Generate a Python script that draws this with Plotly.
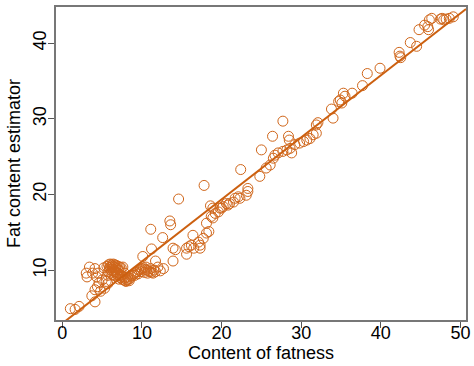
import plotly.graph_objects as go

# Observed (Content of fatness) values
fat_content = [
    1.0, 1.6, 2.1, 3.7, 4.1, 3.0, 3.4, 3.8, 4.1, 4.5, 3.1, 4.3,
    4.1, 4.4, 4.6, 5.0, 5.5, 5.7, 5.3, 5.7, 4.8, 5.2,
    5.6, 5.8, 6.0, 6.2, 6.4, 6.6, 6.8, 7.0, 7.2, 7.4, 5.9, 6.1, 6.3, 6.5, 6.7, 6.9, 7.1,
    6.0, 6.2, 6.4, 6.6, 6.8, 7.0, 5.8, 6.1, 6.3, 6.5, 6.7, 6.9, 7.2, 7.6, 7.8,
    7.3, 7.5, 7.7, 7.9, 8.1, 8.3, 8.5, 7.4, 7.6, 7.9, 8.2, 8.6, 8.8, 7.1, 8.0, 8.4,
    9.0, 9.2, 9.4, 9.6, 9.8, 10.0, 10.2, 10.4, 10.6, 10.8, 11.0, 11.2, 11.4,
    9.1, 9.5, 9.9, 10.3, 10.7, 11.1, 11.5, 11.7, 10.5,
    10.1, 11.1, 11.2, 11.7, 12.0, 12.6, 12.7, 12.3, 13.5, 13.6, 13.9, 13.9, 14.2, 14.6,
    15.6, 15.6, 15.9, 16.2, 16.5, 16.4, 17.1, 17.3, 17.7, 18.1, 18.4, 17.8, 18.1, 18.6,
    18.7, 19.2, 19.6, 19.8, 20.2, 20.8, 21.0, 21.5, 22.3, 23.1, 23.3, 18.9, 17.3,
    18.9, 20.0, 20.6, 21.7, 22.1,
    22.4, 24.8, 23.3, 25.0, 26.4, 27.7, 28.4, 28.5, 25.6, 26.1, 26.5, 26.7, 27.1, 27.7,
    28.2, 28.6, 28.8, 29.2, 29.8, 30.3, 30.7, 31.1, 31.5, 31.9, 32.1, 31.9, 33.8, 34.0,
    34.7, 34.9, 35.3, 35.1, 35.5, 36.4, 37.7, 38.3, 39.9, 42.3, 42.4, 42.5, 43.7, 44.5,
    44.8, 45.5, 46.0, 45.9, 46.1, 46.4, 47.5, 47.7, 47.9, 48.2, 48.6, 49.1,
]

# Estimated (Fat content estimator) values
fat_estimate = [
    4.9, 4.8, 5.2, 6.6, 5.8, 9.6, 10.4, 9.6, 10.2, 9.6, 9.1, 9.1,
    7.4, 7.8, 8.3, 8.7, 8.5, 9.3, 7.6, 8.2, 7.2, 10.3,
    10.5, 10.7, 10.8, 10.7, 10.8, 10.7, 10.6, 10.5, 10.4, 10.3, 10.3, 10.4, 10.5, 10.4, 10.3, 10.2, 10.0,
    10.1, 9.9, 10.0, 9.8, 9.7, 9.6, 9.8, 9.6, 9.4, 9.3, 9.2, 9.4, 9.3, 10.4, 9.6,
    9.0, 8.8, 8.7, 8.6, 8.7, 8.8, 8.9, 9.3, 9.1, 9.0, 9.1, 9.2, 9.3, 8.8, 8.5, 8.6,
    9.5, 9.7, 9.8, 10.0, 10.1, 10.2, 10.3, 10.1, 10.0, 9.9, 9.8, 9.7, 9.6,
    9.3, 9.5, 9.8, 9.7, 9.6, 10.2, 10.0, 9.8, 10.4,
    11.8, 15.4, 12.8, 11.2, 10.4, 14.3, 10.2, 9.9, 16.5, 16.0, 11.2, 12.9, 12.7, 19.4,
    12.1, 12.9, 13.1, 13.3, 12.9, 14.6, 13.7, 13.3, 14.2, 14.9, 15.1, 21.2, 16.2, 18.5,
    17.1, 17.5, 17.7, 18.2, 18.4, 18.6, 18.8, 19.0, 19.5, 19.9, 20.4, 16.9, 12.9,
    18.2, 18.2, 18.8, 19.5, 19.7,
    23.3, 22.4, 20.8, 25.9, 27.7, 29.7, 27.7, 27.2, 23.5, 23.9, 24.8, 25.2, 25.5, 25.7,
    25.9, 26.1, 25.5, 26.6, 26.8, 27.0, 27.2, 27.4, 27.9, 28.1, 29.5, 29.2, 31.3, 30.1,
    32.3, 32.5, 33.4, 32.1, 33.0, 33.4, 34.4, 36.0, 36.7, 38.8, 38.3, 38.1, 40.1, 39.6,
    41.8, 42.4, 41.8, 42.2, 43.1, 43.3, 43.2, 43.3, 43.1, 43.2, 43.3, 43.5,
]

# Fitted line (intercept, slope)
line_intercept = 2.95
line_slope = 0.82

x_range = [-0.8, 50.7]
y_range = [3.4, 44.8]
x_ticks = [0, 10, 20, 30, 40, 50]
y_ticks = [10, 20, 30, 40]

color = "#D0661A"

line_x = [x_range[0], x_range[1]]
line_y = [line_intercept + line_slope * v for v in line_x]

fig = go.Figure()
fig.add_trace(go.Scatter(
    x=fat_content, y=fat_estimate, mode="markers",
    marker=dict(symbol="circle-open", size=10, color=color, line=dict(width=1, color=color)),
    showlegend=False, hoverinfo="skip",
))
fig.add_trace(go.Scatter(
    x=line_x, y=line_y, mode="lines",
    line=dict(color="#CC6010", width=2), showlegend=False, hoverinfo="skip",
))

font = dict(family="Liberation Sans, Arial, sans-serif", size=18, color="black")

fig.update_layout(
    width=474, height=366,
    margin=dict(l=56, r=8, t=7, b=46),
    plot_bgcolor="white", paper_bgcolor="white",
    font=font,
    xaxis=dict(
        range=x_range, tickvals=x_ticks, ticks="outside", ticklen=6, tickwidth=1,
        tickcolor="#555555", showgrid=False, zeroline=False,
        showline=True, linecolor="#777777", linewidth=1.5, mirror=True,
        tickfont=font, ticklabelstandoff=-10, automargin=False,
        title=dict(text="Content of fatness", font=font, standoff=1),
    ),
    yaxis=dict(
        range=y_range, tickvals=y_ticks, ticks="outside", ticklen=6, tickwidth=1,
        tickcolor="#555555", showgrid=False, zeroline=False,
        showline=True, linecolor="#777777", linewidth=1.5, mirror=True,
        tickfont=font, tickangle=-90, ticklabelstandoff=-5, automargin=False,
        title=dict(text="Fat content estimator", font=font, standoff=5),
    ),
)

fig.write_html("out.html", config={"displayModeBar": False},
               post_script="document.body.style.margin='0';")
